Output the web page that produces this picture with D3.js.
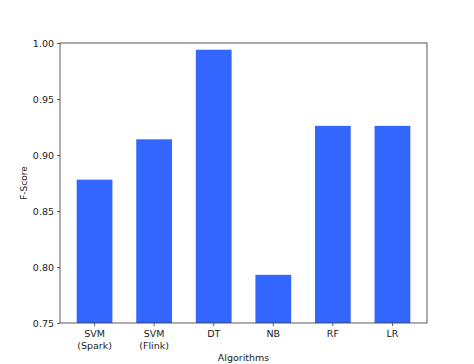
<!DOCTYPE html>
<html>
<head>
<meta charset="utf-8">
<script src="https://cdn.jsdelivr.net/npm/d3@7"></script>
<style>
  body { margin: 0; background: #fff; }
  svg { display: block; font-family: "DejaVu Sans", sans-serif; }
</style>
</head>
<body>
<svg></svg>
<script>
const algorithms = ['SVM\n(Spark)', 'SVM\n(Flink)', 'DT', 'NB', 'RF', 'LR'];
const fScores = [0.878, 0.914, 0.994, 0.793, 0.926, 0.926];
const yTicks = [0.75, 0.80, 0.85, 0.90, 0.95, 1.00];

const svgWidth = 474;
const svgHeight = 364;
const margin = { top: 43, right: 47, bottom: 41, left: 60 };
const width = svgWidth - margin.left - margin.right;
const height = svgHeight - margin.top - margin.bottom;

const svg = d3.select('svg')
    .attr('width', svgWidth)
    .attr('height', svgHeight)
    .append('g')
    .attr('transform', `translate(${margin.left}, ${margin.top})`);

const xScale = d3.scaleBand()
    .domain(algorithms)
    .range([0, width])
    .paddingInner(0.4)
    .paddingOuter(0.28);

const yScale = d3.scaleLinear()
    .domain([0.75, 1.0])
    .range([height, 0]);

svg.selectAll('.bar')
    .data(algorithms)
    .enter().append('rect')
    .attr('class', 'bar')
    .attr('x', d => xScale(d))
    .attr('y', (d, i) => yScale(fScores[i]))
    .attr('width', xScale.bandwidth())
    .attr('height', (d, i) => height - yScale(fScores[i]))
    .attr('fill', '#3366ff');

// y axis
const yAxis = svg.append('g')
    .call(d3.axisLeft(yScale).tickValues(yTicks).tickFormat(d3.format('.2f')).tickSize(3).tickPadding(3));
yAxis.select('.domain').remove();
yAxis.selectAll('line').attr('stroke', '#333').attr('stroke-width', 0.8);
yAxis.selectAll('text')
    .attr('font-size', '9.5px')
    .attr('font-family', 'DejaVu Sans')
    .attr('fill', '#222');

// x axis, two-line labels
const xAxis = svg.append('g')
    .attr('transform', `translate(0, ${height})`)
    .call(d3.axisBottom(xScale).tickSize(3).tickPadding(3).tickFormat(''));
xAxis.select('.domain').remove();
xAxis.selectAll('line').attr('stroke', '#333').attr('stroke-width', 0.8);
xAxis.selectAll('.tick text').remove();
xAxis.selectAll('.tick')
    .append('text')
    .attr('fill', '#222')
    .attr('font-size', '9.5px')
    .attr('font-family', 'DejaVu Sans')
    .attr('text-anchor', 'middle')
    .selectAll('tspan')
    .data(d => d.split('\n'))
    .enter().append('tspan')
    .attr('x', 0)
    .attr('y', (d, i) => 14 + i * 11.5)
    .text(d => d);

// frame
svg.append('rect')
    .attr('x', 0)
    .attr('y', 0)
    .attr('width', width)
    .attr('height', height)
    .attr('fill', 'none')
    .attr('stroke', '#333')
    .attr('stroke-width', 0.8);

svg.append('text')
    .attr('x', width / 2)
    .attr('y', height + 38)
    .attr('text-anchor', 'middle')
    .attr('fill', '#222')
    .attr('font-size', '9.5px')
    .text('Algorithms');

svg.append('text')
    .attr('transform', `translate(${-33.5}, ${height / 2}) rotate(-90)`)
    .attr('text-anchor', 'middle')
    .attr('fill', '#222')
    .attr('font-size', '9px')
    .text('F-Score');
</script>
</body>
</html>
